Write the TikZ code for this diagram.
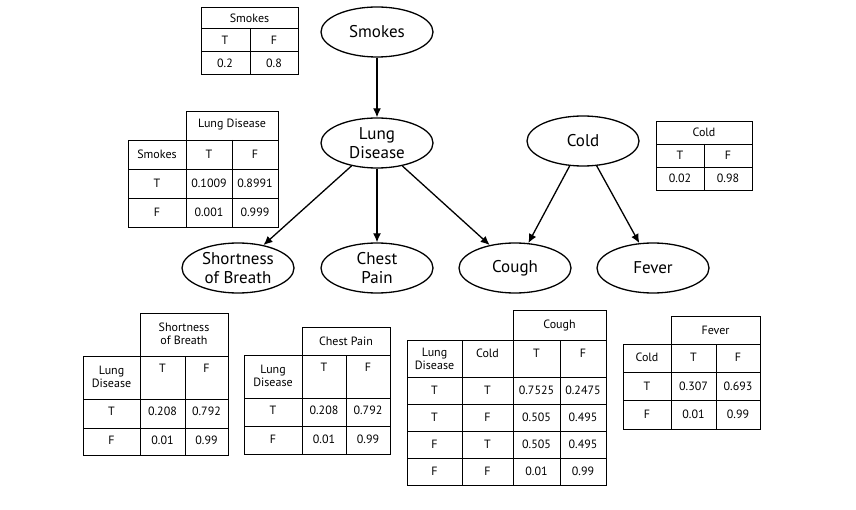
\documentclass[tikz,border=0pt]{standalone}
\usepackage{fontspec}
\setmainfont{PT Sans}
\usetikzlibrary{arrows.meta,shapes.geometric}
\begin{document}
\begin{tikzpicture}[x=1pt,y=-1pt,
  var/.style={draw,line width=1.3pt,ellipse,minimum width=112pt,minimum height=50pt,inner sep=0pt,font=\fontsize{17}{19}\selectfont,align=center},
  tb/.style={line width=0.8pt},
  t/.style={font=\fontsize{12}{13}\selectfont,align=center,inner sep=0pt},
  arr/.style={line width=1.3pt,-{Latex[length=9pt,width=8pt]}}]
\useasboundingbox (0,0) rectangle (856,510);
% nodes
\node[var] (s) at (377,32) {Smokes};
\node[var] (l) at (377,143) {Lung\\Disease};
\node[var] (c) at (583,141) {Cold};
\node[var] (sb) at (238,268) {Shortness\\of Breath};
\node[var] (cp) at (377,268) {Chest\\Pain};
\node[var] (co) at (515,268) {Cough};
\node[var] (fe) at (653,268) {Fever};
\draw[arr] (s) -- (l);
\draw[arr] (l) -- (sb);
\draw[arr] (l) -- (cp);
\draw[arr] (l) -- (co);
\draw[arr] (c) -- (co);
\draw[arr] (c) -- (fe);
% Smokes table
\draw[tb] (201,7) rectangle (298,74) (201,28)--(298,28) (201,51)--(298,51) (250,28)--(250,74);
\node[t] (s1) at (249.5,18) {Smokes};
\node[t] (s2) at (225,40) {T}; \node[t] (s3) at (274,40) {F};
\node[t] (s4) at (225,63) {0.2}; \node[t] (s5) at (274,63) {0.8};
% Lung Disease table
\draw[tb] (186,111) rectangle (278,227) (128,140) rectangle (278,227)
  (128,169)--(278,169) (128,198)--(278,198) (232,140)--(232,227);
\node[t] (l1) at (232,125) {Lung Disease};
\node[t] (l2) at (157,154) {Smokes}; \node[t] (l3) at (209,154) {T}; \node[t] (l4) at (255,154) {F};
\node[t] (l5) at (157,183) {T}; \node[t] (l6) at (209,183) {0.1009}; \node[t] (l7) at (255,183) {0.8991};
\node[t] (l8) at (157,212) {F}; \node[t] (l9) at (209,212) {0.001}; \node[t] (l10) at (255,212) {0.999};
% Cold table
\draw[tb] (656,121) rectangle (752,190) (656,144)--(752,144) (656,167)--(752,167) (704,144)--(704,190);
\node[t] (c1) at (704,132) {Cold};
\node[t] (c2) at (680,155) {T}; \node[t] (c3) at (728,155) {F};
\node[t] (c4) at (680,178) {0.02}; \node[t] (c5) at (728,178) {0.98};
% Shortness table
\draw[tb] (140,313) rectangle (228,455) (83,356) rectangle (228,455)
  (83,399)--(228,399) (83,428)--(228,428) (185,356)--(185,455);
\node[t] (b1) at (184,334) {Shortness\\of Breath};
\node[t] (b2) at (111.5,377) {Lung\\Disease}; \node[t] (b3) at (162.5,368) {T}; \node[t] (b4) at (206.5,368) {F};
\node[t] (b5) at (111.5,411) {T}; \node[t] (b6) at (162.5,411) {0.208}; \node[t] (b7) at (206.5,411) {0.792};
\node[t] (b8) at (111.5,440) {F}; \node[t] (b9) at (162.5,440) {0.01}; \node[t] (b10) at (206.5,440) {0.99};
% Chest Pain table
\draw[tb] (302,327) rectangle (390,454) (244,355) rectangle (390,454)
  (244,398)--(390,398) (244,426)--(390,426) (346,355)--(346,454);
\node[t] (p1) at (346,341) {Chest Pain};
\node[t] (p2) at (273,376) {Lung\\Disease}; \node[t] (p3) at (324,367) {T}; \node[t] (p4) at (368,367) {F};
\node[t] (p5) at (273,410) {T}; \node[t] (p6) at (324,410) {0.208}; \node[t] (p7) at (368,410) {0.792};
\node[t] (p8) at (273,439) {F}; \node[t] (p9) at (324,439) {0.01}; \node[t] (p10) at (368,439) {0.99};
% Cough table
\draw[tb] (513,310) rectangle (606,485) (407,340) rectangle (606,485)
  (407,377)--(606,377) (407,404)--(606,404) (407,431)--(606,431) (407,458)--(606,458)
  (462,340)--(462,485) (560,340)--(560,485);
\node[t] (o1) at (559.5,325) {Cough};
\node[t] (o2) at (434.5,359) {Lung\\Disease}; \node[t] (o3) at (487.5,353) {Cold};
\node[t] (o4) at (536.5,353) {T}; \node[t] (o5) at (583,353) {F};
\node[t] (o6) at (434.5,390) {T}; \node[t] (o7) at (487.5,390) {T}; \node[t] (o8) at (536.5,390) {0.7525}; \node[t] (o9) at (583,390) {0.2475};
\node[t] (o10) at (434.5,417) {T}; \node[t] (o11) at (487.5,417) {F}; \node[t] (o12) at (536.5,417) {0.505}; \node[t] (o13) at (583,417) {0.495};
\node[t] (o14) at (434.5,444) {F}; \node[t] (o15) at (487.5,444) {T}; \node[t] (o16) at (536.5,444) {0.505}; \node[t] (o17) at (583,444) {0.495};
\node[t] (o18) at (434.5,471) {F}; \node[t] (o19) at (487.5,471) {F}; \node[t] (o20) at (536.5,471) {0.01}; \node[t] (o21) at (583,471) {0.99};
% Fever table
\draw[tb] (671,316) rectangle (760,429) (623,344) rectangle (760,429)
  (623,372)--(760,372) (623,400)--(760,400) (716,344)--(716,429);
\node[t] (f1) at (715.5,330) {Fever};
\node[t] (f2) at (647,357) {Cold}; \node[t] (f3) at (693.5,357) {T}; \node[t] (f4) at (738,357) {F};
\node[t] (f5) at (647,386) {T}; \node[t] (f6) at (693.5,386) {0.307}; \node[t] (f7) at (738,386) {0.693};
\node[t] (f8) at (647,414) {F}; \node[t] (f9) at (693.5,414) {0.01}; \node[t] (f10) at (738,414) {0.99};
\end{tikzpicture}
\end{document}
